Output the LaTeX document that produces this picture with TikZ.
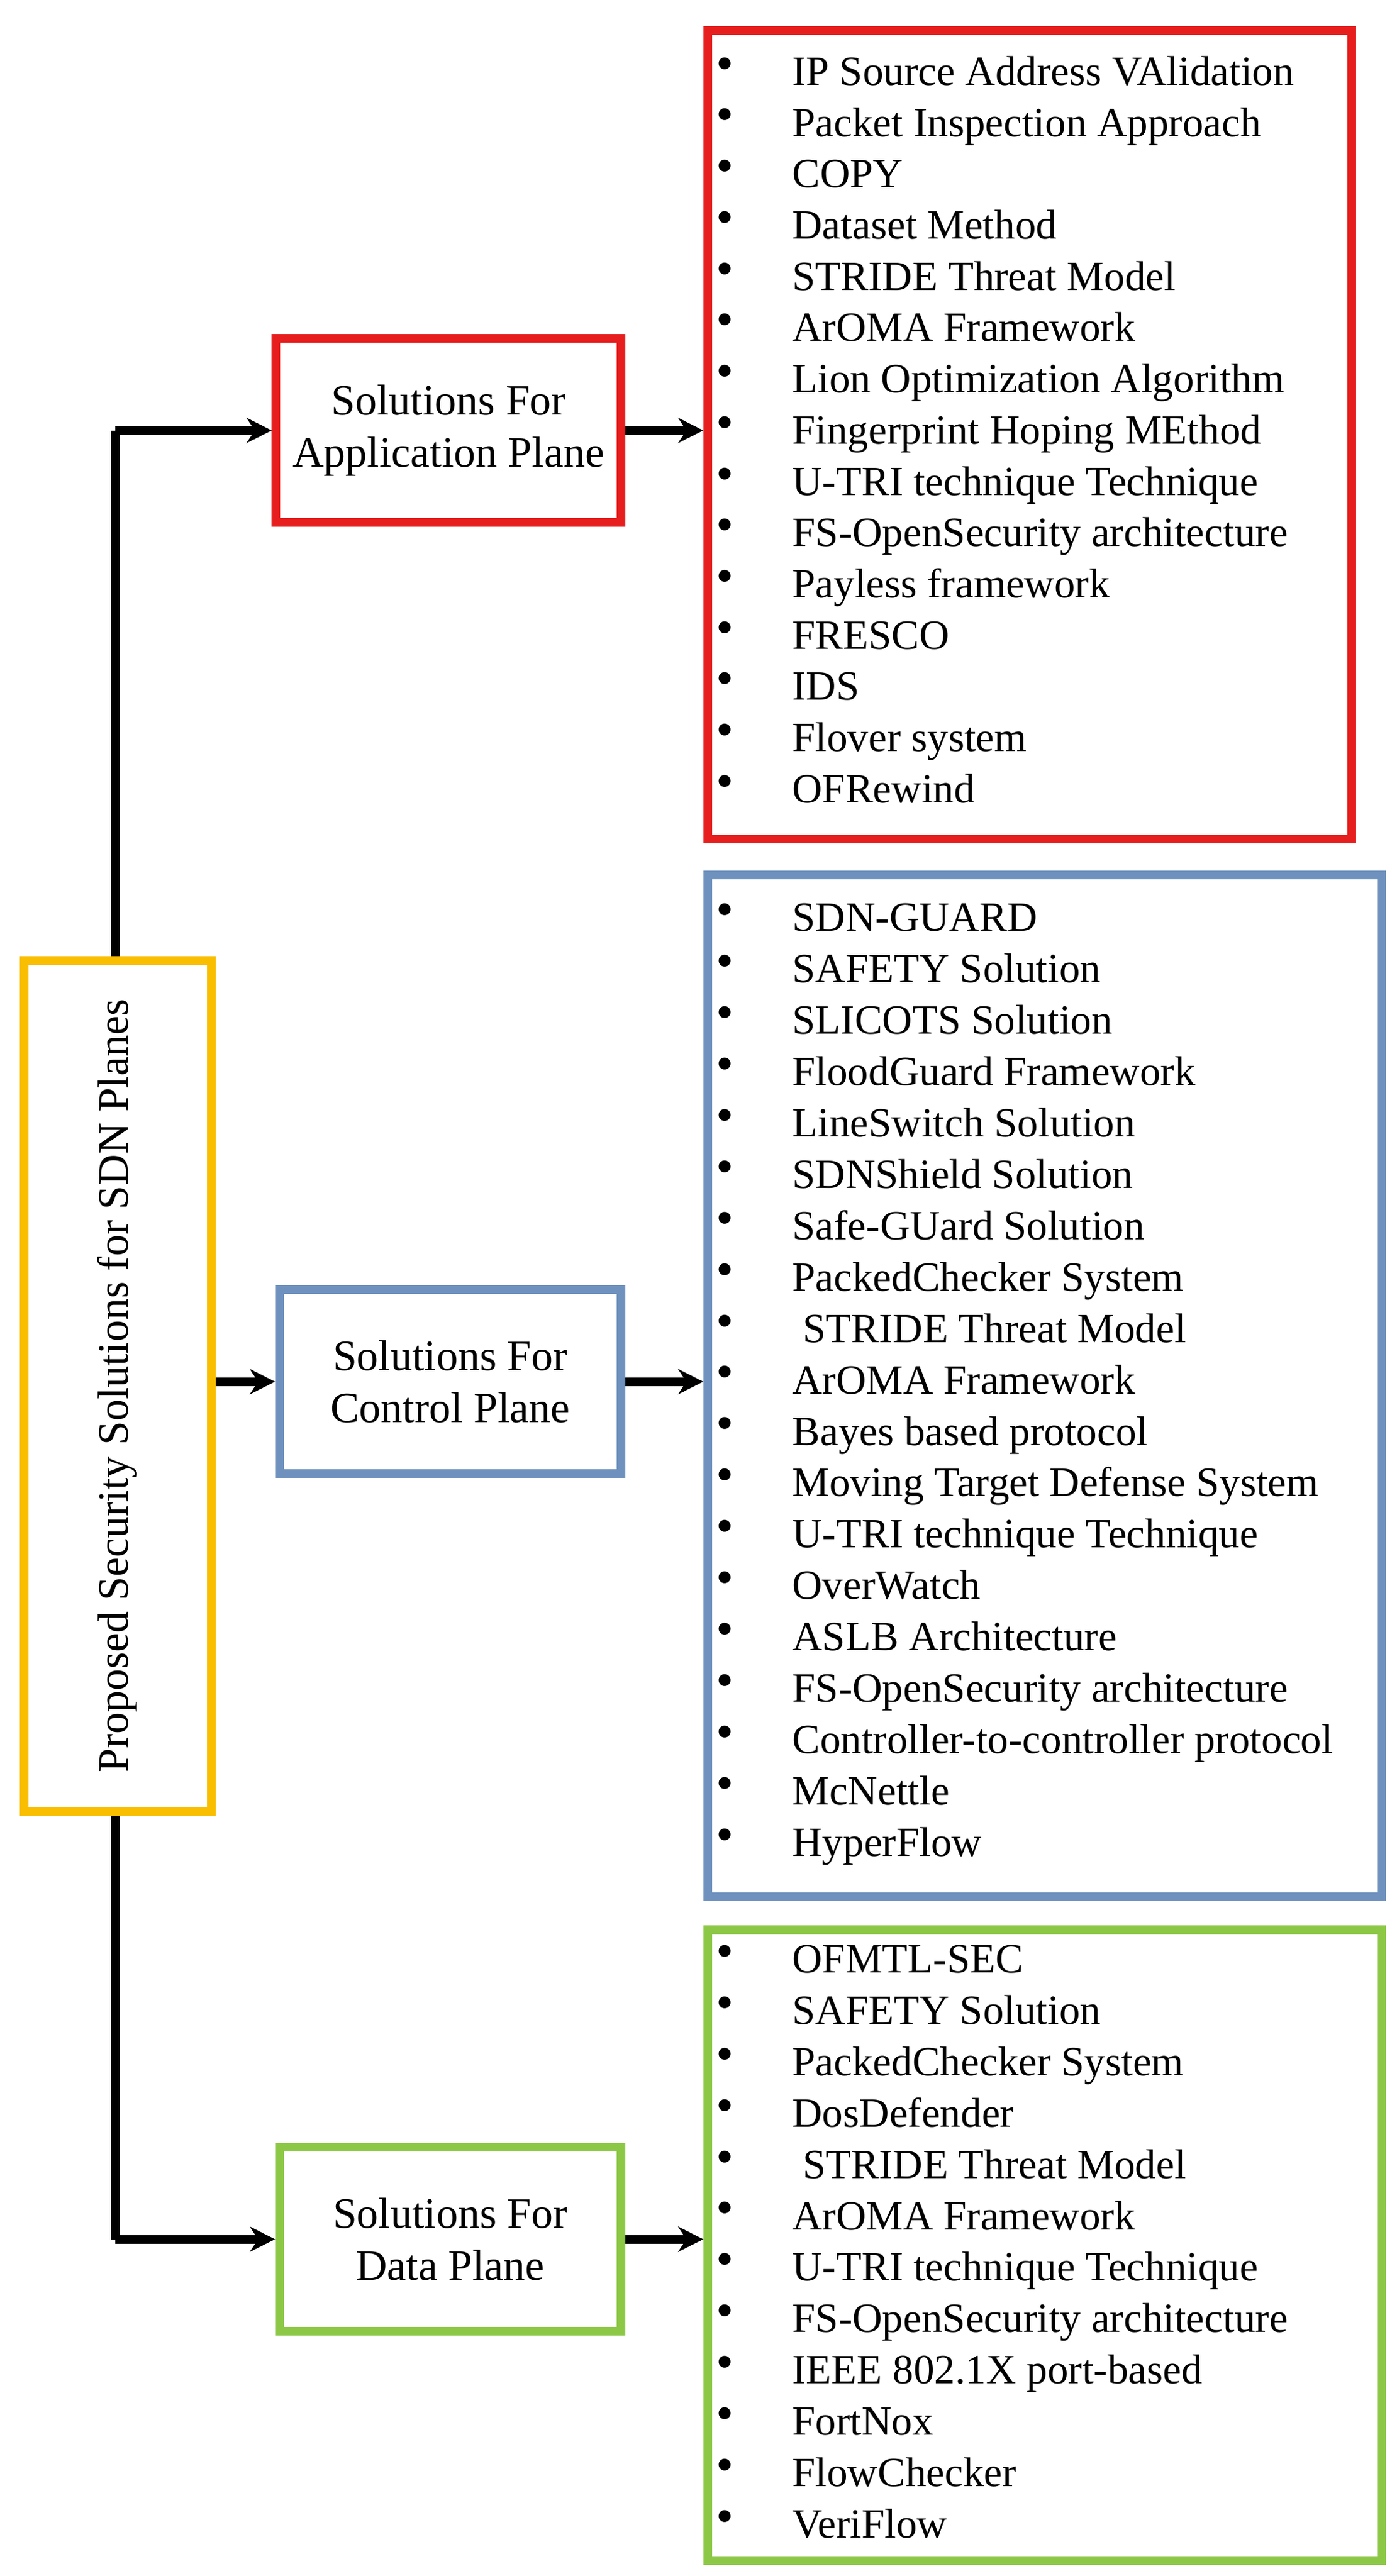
\documentclass[tikz,border=0pt]{standalone}
\usepackage{fontspec}
\setmainfont{Liberation Serif}
\usetikzlibrary{arrows.meta}
\definecolor{cred}{RGB}{230,30,30}
\definecolor{cblue}{RGB}{110,145,190}
\definecolor{cgreen}{RGB}{140,200,70}
\definecolor{cyel}{RGB}{250,190,0}
\begin{document}
\begin{tikzpicture}[x=0.03cm,y=-0.03cm,
  box/.style={draw,line width=4.5pt},
  lbl/.style={font=\fontsize{22.5}{27}\selectfont,align=center},
  itm/.style={anchor=west,inner sep=0pt,text height=0.7em,text depth=0.22em,font=\fontsize{21.6}{25}\selectfont},
  bul/.style={inner sep=0pt,text height=0.3em,text depth=0pt,font=\fontsize{26}{26}\selectfont},
  conn/.style={line width=4.5pt,-{Stealth[length=13pt,width=13pt]}},
  ln/.style={line width=4.5pt}]
\useasboundingbox (0,0) rectangle (850,1568);
\node[box,draw=cred,minimum width=392*0.03cm,minimum height=492*0.03cm,anchor=north west] (L1) at (428,16) {};
\node[box,draw=cblue,minimum width=410*0.03cm,minimum height=622*0.03cm,anchor=north west] (L2) at (428,530) {};
\node[box,draw=cgreen,minimum width=410*0.03cm,minimum height=384*0.03cm,anchor=north west] (L3) at (428,1172) {};
\node[box,draw=cyel,minimum width=114*0.03cm,minimum height=518*0.03cm,anchor=north west] (Y) at (12,582) {};
\node[lbl,rotate=90] (Yt) at (Y.center) {Proposed Security Solutions for SDN Planes};
\node[box,draw=cred,lbl,minimum width=210*0.03cm,minimum height=112*0.03cm] (A) at (273,262) {Solutions For\\Application Plane};
\node[box,draw=cblue,lbl,minimum width=208*0.03cm,minimum height=112*0.03cm] (C) at (274,841) {Solutions For\\Control Plane};
\node[box,draw=cgreen,lbl,minimum width=208*0.03cm,minimum height=112*0.03cm] (D) at (274,1363) {Solutions For\\Data Plane};
\coordinate (t) at (70,262);
\coordinate (b) at (70,1363);
\draw[ln] (Y.north -| t) -- (t);
\draw[conn] (t) -- (A.west);
\draw[ln] (Y.south -| b) -- (b);
\draw[conn] (b) -- (D.west);
\draw[conn] (Y.east |- C) -- (C.west);
\draw[conn] (A.east) -- (A.east -| L1.west);
\draw[conn] (C.east) -- (C.east -| L2.west);
\draw[conn] (D.east) -- (D.east -| L3.west);
\foreach [count=\i] \t in {IP Source Address VAlidation,Packet Inspection Approach,COPY,Dataset Method,STRIDE Threat Model,ArOMA Framework,Lion Optimization Algorithm,Fingerprint Hoping MEthod,U-TRI technique Technique,FS-OpenSecurity architecture,Payless framework,FRESCO,IDS,Flover system,OFRewind}
  {\node[bul] (ab\i) at (441,{47+31.2*(\i-1)}) {\textbullet};
   \node[itm] (a\i) at (482,{49+31.2*(\i-1)}) {\t};}
\foreach [count=\i] \t in {SDN-GUARD,SAFETY Solution,SLICOTS Solution,FloodGuard Framework,LineSwitch Solution,SDNShield Solution,Safe-GUard Solution,PackedChecker System,\ STRIDE Threat Model,ArOMA Framework,Bayes based protocol,Moving Target Defense System,U-TRI technique Technique,OverWatch,ASLB Architecture,FS-OpenSecurity architecture,Controller-to-controller protocol,McNettle,HyperFlow}
  {\node[bul] (cb\i) at (441,{562+31.28*(\i-1)}) {\textbullet};
   \node[itm] (c\i) at (482,{564+31.28*(\i-1)}) {\t};}
\foreach [count=\i] \t in {OFMTL-SEC,SAFETY Solution,PackedChecker System,DosDefender,\ STRIDE Threat Model,ArOMA Framework,U-TRI technique Technique,FS-OpenSecurity architecture,IEEE 802.1X port-based,FortNox,FlowChecker,VeriFlow}
  {\node[bul] (db\i) at (441,{1196+31.27*(\i-1)}) {\textbullet};
   \node[itm] (d\i) at (482,{1198+31.27*(\i-1)}) {\t};}
\end{tikzpicture}
\end{document}
